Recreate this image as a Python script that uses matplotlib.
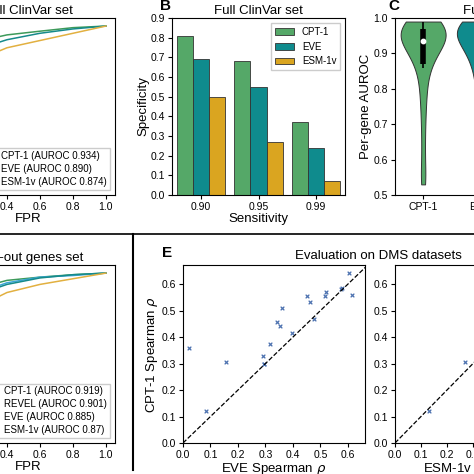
import matplotlib
matplotlib.use("Agg")
import matplotlib.pyplot as plt
import numpy as np

plt.rcParams['font.family'] = ['Liberation Sans', 'DejaVu Sans']
plt.rcParams['font.size'] = 7.5

C_CPT = '#3d9a5a'; C_EVE = '#168a8a'; C_ESM = '#e2b040'; C_REV = '#3aa6d8'
B_CPT = '#55a868'; B_EVE = '#0f8b8d'; B_ESM = '#daa520'

# Panel A ROC (visible portion)
a_cpt_fpr = [0, 0.02, 0.05, 0.1, 0.2, 0.4, 0.6, 0.8, 1.0]
a_cpt_tpr = [0, 0.5, 0.7, 0.82, 0.9, 0.945, 0.968, 0.99, 1.0]
a_eve_fpr = [0, 0.02, 0.05, 0.1, 0.2, 0.4, 0.6, 0.8, 1.0]
a_eve_tpr = [0, 0.4, 0.6, 0.74, 0.85, 0.915, 0.955, 0.982, 1.0]
a_esm_fpr = [0, 0.02, 0.05, 0.1, 0.2, 0.4, 0.6, 0.8, 1.0]
a_esm_tpr = [0, 0.3, 0.5, 0.65, 0.78, 0.865, 0.91, 0.955, 1.0]

# Panel D ROC
d_cpt_fpr = [0, 0.02, 0.05, 0.1, 0.2, 0.4, 0.6, 0.8, 1.0]
d_cpt_tpr = [0, 0.5, 0.7, 0.82, 0.9, 0.955, 0.975, 0.99, 1.0]
d_rev_fpr = [0, 0.02, 0.05, 0.1, 0.2, 0.4, 0.6, 0.8, 1.0]
d_rev_tpr = [0, 0.45, 0.65, 0.78, 0.87, 0.94, 0.975, 0.985, 1.0]
d_eve_fpr = [0, 0.02, 0.05, 0.1, 0.2, 0.4, 0.6, 0.8, 1.0]
d_eve_tpr = [0, 0.42, 0.62, 0.75, 0.86, 0.93, 0.97, 0.99, 1.0]
d_esm_fpr = [0, 0.02, 0.05, 0.1, 0.2, 0.4, 0.6, 0.8, 1.0]
d_esm_tpr = [0, 0.3, 0.5, 0.65, 0.78, 0.88, 0.93, 0.965, 1.0]

# Panel B
sens = ['0.90', '0.95', '0.99']
spec_cpt = [0.81, 0.68, 0.37]
spec_eve = [0.69, 0.55, 0.24]
spec_esm = [0.50, 0.27, 0.07]

# Panel C per-gene AUROC
auc_cpt = [0.99, 0.99, 0.985, 0.98, 0.98, 0.975, 0.975, 0.97, 0.97, 0.97, 0.965, 0.96, 0.96,
           0.955, 0.95, 0.95, 0.945, 0.94, 0.935, 0.93, 0.925, 0.92, 0.915, 0.91, 0.9, 0.89,
           0.88, 0.87, 0.85, 0.83, 0.8, 0.77, 0.73, 0.68, 0.62, 0.56, 0.53]
auc_eve = [0.99, 0.985, 0.98, 0.98, 0.975, 0.97, 0.97, 0.965, 0.96, 0.955, 0.95, 0.945, 0.94,
           0.93, 0.92, 0.91, 0.9, 0.89, 0.87, 0.85, 0.82, 0.78, 0.73, 0.66, 0.58]

# Panel E
eve_rho = [0.022, 0.082, 0.157, 0.292, 0.293, 0.296, 0.315, 0.343, 0.353, 0.36, 0.395,
           0.452, 0.463, 0.478, 0.515, 0.52, 0.573, 0.578, 0.605, 0.615]
cpt_rho = [0.36, 0.12, 0.305, 0.33, 0.30, 0.298, 0.375, 0.457, 0.44, 0.508, 0.417,
           0.556, 0.534, 0.468, 0.556, 0.57, 0.583, 0.584, 0.64, 0.56]
esm_rho = [0.31, 0.13, 0.27, 0.32, 0.33, 0.34, 0.35, 0.40, 0.42, 0.45, 0.40,
           0.50, 0.48, 0.45, 0.52, 0.53, 0.55, 0.57, 0.60, 0.56]

W = 474.0
fig = plt.figure(figsize=(4.74, 4.74), dpi=100)

def pax(l, t, r, b):
    return fig.add_axes([l / W, 1 - b / W, (r - l) / W, (b - t) / W])

def roc(ax, curves, title):
    for f, t, c, lab in curves:
        ax.plot(f, t, color=c, lw=1.1, label=lab)
    ax.set_xlim(0, 1.055); ax.set_ylim(-0.05, 1.05)
    ax.set_xticks([0, 0.2, 0.4, 0.6, 0.8, 1.0])
    ax.set_yticks([])
    ax.set_xlabel('FPR', fontsize=9.5, labelpad=1)
    ax.set_title(title, fontsize=9.5, pad=3)
    ax.legend(loc='lower right', fontsize=7, handlelength=1.2, borderpad=0.3,
              labelspacing=0.3, framealpha=1, edgecolor='#cccccc', fancybox=False)

axA = pax(-59, 18, 115, 195)
roc(axA, [(a_cpt_fpr, a_cpt_tpr, C_CPT, 'CPT-1 (AUROC 0.934)'),
          (a_eve_fpr, a_eve_tpr, C_EVE, 'EVE (AUROC 0.890)'),
          (a_esm_fpr, a_esm_tpr, C_ESM, 'ESM-1v (AUROC 0.874)')], 'Full ClinVar set')

axD = pax(-59, 265, 115, 443)
roc(axD, [(d_cpt_fpr, d_cpt_tpr, C_CPT, 'CPT-1 (AUROC 0.919)'),
          (d_rev_fpr, d_rev_tpr, C_REV, 'REVEL (AUROC 0.901)'),
          (d_eve_fpr, d_eve_tpr, C_EVE, 'EVE (AUROC 0.885)'),
          (d_esm_fpr, d_esm_tpr, C_ESM, 'ESM-1v (AUROC 0.87)')], 'Held-out genes set')

# B
axB = pax(172, 18, 345, 195)
x = np.arange(len(sens)); w = 0.28
axB.bar(x - w, spec_cpt, w, color=B_CPT, edgecolor='#333333', lw=0.6, label='CPT-1')
axB.bar(x, spec_eve, w, color=B_EVE, edgecolor='#333333', lw=0.6, label='EVE')
axB.bar(x + w, spec_esm, w, color=B_ESM, edgecolor='#333333', lw=0.6, label='ESM-1v')
axB.set_xticks(x); axB.set_xticklabels(sens)
axB.set_xlim(-0.5, 2.5); axB.set_ylim(0, 0.9)
axB.set_yticks(np.arange(0, 0.91, 0.1))
axB.set_ylabel('Specificity', fontsize=9.5, labelpad=1)
axB.set_xlabel('Sensitivity', fontsize=9.5, labelpad=1)
axB.set_title('Full ClinVar set', fontsize=9.5, pad=3)
axB.legend(loc='upper right', fontsize=7, framealpha=1, edgecolor='#cccccc', fancybox=False)
fig.text(160 / W, 1 - 6 / W, 'B', fontsize=11, fontweight='bold', va='center')

# C
axC = pax(395, 18, 620, 195)
for data, pos, col in [(auc_cpt, 0, B_CPT), (auc_eve, 1, B_EVE)]:
    vp = axC.violinplot(data, positions=[pos], widths=0.8, showextrema=False, bw_method=0.35)
    for b in vp['bodies']:
        b.set_facecolor(col); b.set_edgecolor('#333333'); b.set_alpha(1); b.set_linewidth(0.7)
    q1, med, q3 = np.percentile(data, [25, 50, 75])
    axC.vlines(pos, q1 - 0.01, min(max(data), q3 + 0.02), color='k', lw=1.2)
    axC.vlines(pos, q1, q3, color='k', lw=4)
    axC.scatter([pos], [med], color='white', s=10, zorder=3)
axC.set_xlim(-0.5, 3.5); axC.set_ylim(0.5, 1.0)
axC.set_xticks([0, 1]); axC.set_xticklabels(['CPT-1', 'EVE'], fontsize=10)
axC.set_yticks(np.arange(0.5, 1.01, 0.1))
axC.set_ylabel('Per-gene AUROC', fontsize=9.5, labelpad=1)
axC.set_title('Full ClinVar set', fontsize=9.5, pad=3)
fig.text(388 / W, 1 - 6 / W, 'C', fontsize=11, fontweight='bold', va='center')

# E
axE = pax(183, 265, 365, 443)
axE.scatter(eve_rho, cpt_rho, marker='x', s=7, color='#4c72b0', lw=0.9)
axE.plot([0, 0.7], [0, 0.7], 'k--', lw=0.9)
axE.set_xlim(0, 0.662); axE.set_ylim(0, 0.672)
axE.set_xticks(np.arange(0, 0.61, 0.1)); axE.set_yticks(np.arange(0, 0.61, 0.1))
axE.set_xlabel('EVE Spearman $\\rho$', fontsize=9.5, labelpad=1)
axE.set_ylabel('CPT-1 Spearman $\\rho$', fontsize=9.5, labelpad=1)

axE2 = pax(395, 265, 577, 443)
axE2.scatter(esm_rho, cpt_rho, marker='x', s=7, color='#4c72b0', lw=0.9)
axE2.plot([0, 0.7], [0, 0.7], 'k--', lw=0.9)
axE2.set_xlim(0, 0.7); axE2.set_ylim(0, 0.672)
axE2.set_xticks(np.arange(0, 0.61, 0.1)); axE2.set_yticks(np.arange(0, 0.61, 0.1))
axE2.set_xlabel('ESM-1v Spearman $\\rho$', fontsize=9.5, labelpad=1)
fig.text(378 / W, 1 - 256 / W, 'Evaluation on DMS datasets', fontsize=9.5, ha='center', va='center')
fig.text(162 / W, 1 - 253 / W, 'E', fontsize=11, fontweight='bold', va='center')

for ax in [axA, axB, axC, axD, axE, axE2]:
    ax.tick_params(labelsize=7.5, length=3, pad=2)

# dividers
fig.add_artist(plt.Line2D([0, 1], [1 - 234 / W] * 2, color='k', lw=1.2))
fig.add_artist(plt.Line2D([133 / W] * 2, [1 - 234 / W, 1 - 470 / W], color='k', lw=1.5))

fig.savefig('out.png', dpi=100)
